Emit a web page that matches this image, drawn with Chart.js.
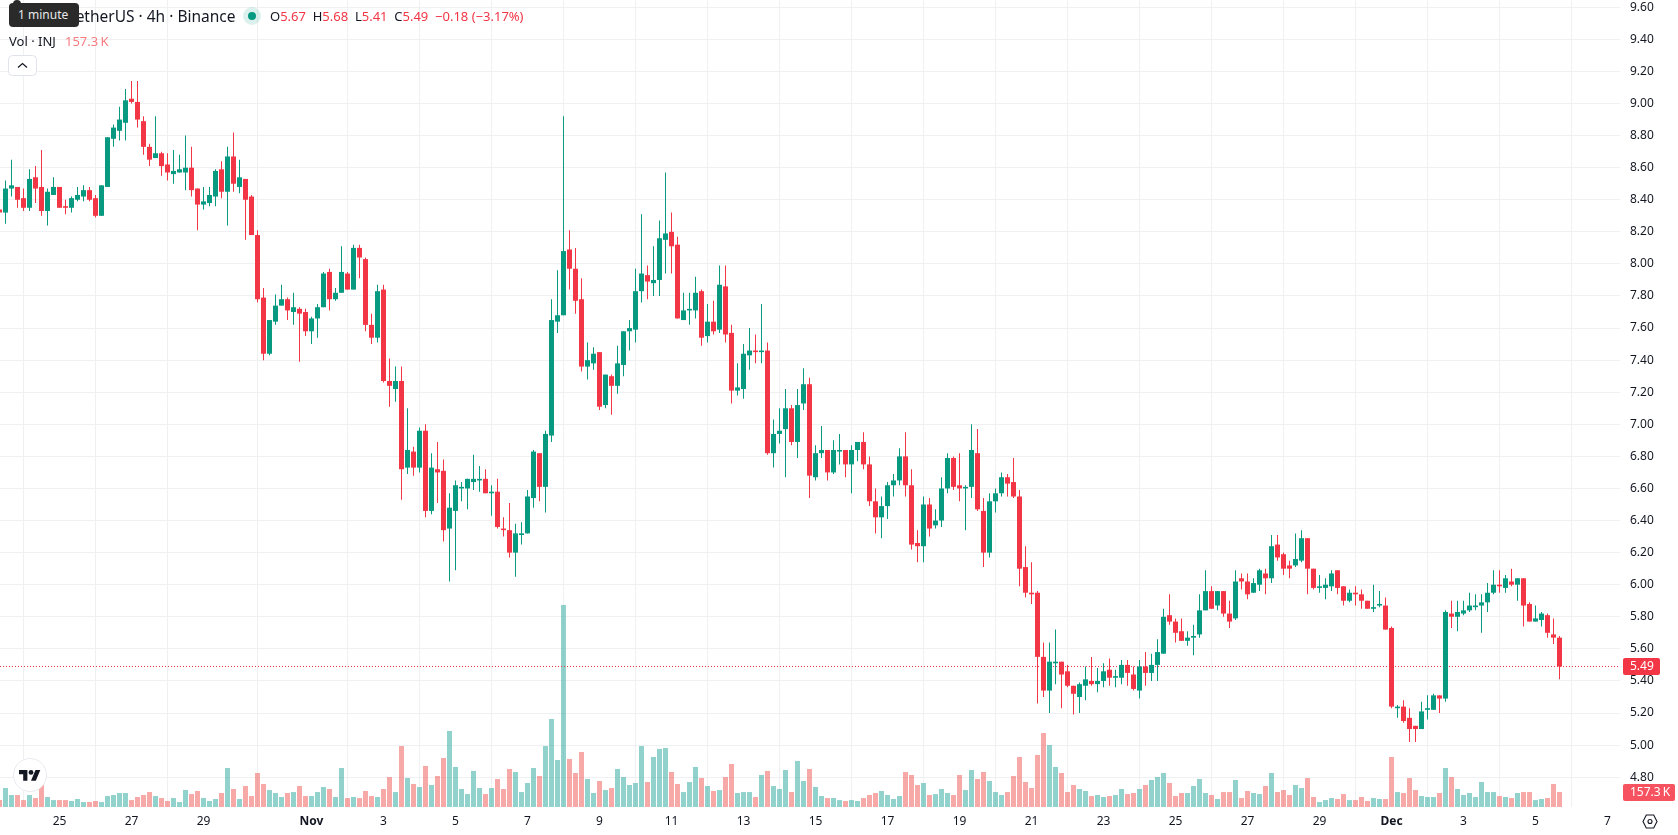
<!DOCTYPE html>
<html>
<head>
<meta charset="utf-8">
<title>INJ / TetherUS 4h</title>
<script src="https://cdn.jsdelivr.net/npm/chart.js@4"></script>
<style>
    html, body { margin: 0; padding: 0; background: #fff; overflow: hidden; }
    body { width: 1678px; height: 835px; position: relative; font-family: "Noto Sans", sans-serif; color: #131722; }
    canvas { position: absolute; left: 0; top: 0; }
    .txt { position: absolute; white-space: nowrap; }
    .red { color: #f23645; }
</style>
</head>
<body>
<canvas id="candles" width="1678" height="835"></canvas>

<div class="txt" style="left:33px;top:5px;font-size:15.5px;line-height:22px;" id="title">INJ / TetherUS · 4h · Binance</div>
<div style="position:absolute;left:9px;top:3px;width:70px;height:24px;background:#2a2a2a;border-radius:4px;"></div>
<div style="position:absolute;left:13px;top:0;width:8px;height:4px;background:#2a2a2a;border-radius:4px 4px 0 0;"></div>
<div class="txt" style="left:18px;top:7px;font-size:12px;line-height:16px;color:#e8e8e8;">1 minute</div>

<svg style="position:absolute;left:242px;top:7px" width="20" height="19">
    <circle cx="10" cy="9" r="9" fill="#089981" opacity="0.14"></circle>
    <circle cx="10" cy="9" r="4" fill="#089981"></circle>
</svg>
<div class="txt" style="left:270px;top:7px;font-size:13px;line-height:18px;">
    O<span class="red">5.67</span>&nbsp; H<span class="red">5.68</span>&nbsp; L<span class="red">5.41</span>&nbsp; C<span class="red">5.49</span>&nbsp; <span class="red">−0.18 (−3.17%)</span>
</div>
<div class="txt" style="left:9px;top:32px;font-size:13px;line-height:18px;">Vol · INJ</div>
<div class="txt" style="left:65px;top:32px;font-size:13px;line-height:18px;color:#f77c80;">157.3&#8201;K</div>
<svg style="position:absolute;left:8px;top:55px" width="29" height="21">
    <rect x="0.5" y="0.5" width="28" height="20" rx="4" fill="#fff" stroke="#e0e3eb"></rect>
    <path d="M10 12.5l4.5-4 4.5 4" fill="none" stroke="#131722" stroke-width="1.2"></path>
</svg>

<!-- logo badge, bottom left -->
<svg style="position:absolute;left:13px;top:758px" width="34" height="34" viewBox="0 0 34 34">
    <circle cx="17" cy="17" r="16.5" fill="#fff" stroke="#e8eaef"></circle>
    <g transform="translate(6,12) scale(0.6)" fill="#131722">
        <path d="M14 18H7V7H0V0h14v18zM28 18h-8L27.5 0h8L28 18z"></path>
        <circle cx="20" cy="4" r="4"></circle>
    </g>
</svg>

<!-- settings hexagon, bottom right -->
<svg style="position:absolute;left:1642px;top:814px" width="16" height="15" viewBox="0 0 16 15">
    <path d="M4.3 1h7.4L15 7.5 11.7 14H4.3L1 7.5z" fill="none" stroke="#131722" stroke-width="1.1"></path>
    <circle cx="8" cy="7.5" r="2" fill="none" stroke="#131722" stroke-width="1.1"></circle>
</svg>

<script>
// 4h candles, oldest first
const opens = [8.34,
    8.32,8.47,8.48,8.41,8.35,8.54,8.48,8.33,8.43,8.48,
    8.36,8.35,8.40,8.42,8.46,8.41,8.30,8.48,8.78,8.83,
    8.88,9.03,9.01,8.89,8.73,8.66,8.69,8.62,8.56,8.57,
    8.57,8.60,8.47,8.37,8.38,8.42,8.59,8.45,8.67,8.48,
    8.53,8.42,8.18,7.79,7.44,7.64,7.74,7.78,7.70,7.72,
    7.70,7.58,7.66,7.73,7.95,7.78,7.82,7.94,7.84,8.10,
    8.03,7.62,7.54,7.84,7.27,7.22,7.27,6.73,6.83,6.73,
    6.96,6.46,6.72,6.71,6.35,6.46,6.60,6.60,6.64,6.65,
    6.66,6.57,6.58,6.35,6.34,6.20,6.31,6.32,6.54,6.82,
    6.61,6.93,7.64,7.68,8.09,7.97,7.78,7.36,7.38,7.45,
    7.12,7.30,7.24,7.37,7.58,7.59,7.83,7.93,7.88,7.90,
    8.15,8.20,8.12,7.65,7.71,7.71,7.83,7.55,7.64,7.59,
    7.86,7.57,7.21,7.22,7.43,7.46,7.45,7.46,6.82,6.94,
    6.97,7.10,6.89,7.13,7.25,6.67,6.82,6.84,6.70,6.83,
    6.84,6.75,6.84,6.89,6.75,6.52,6.42,6.49,6.62,6.65,
    6.80,6.62,6.26,6.24,6.50,6.37,6.40,6.60,6.79,6.62,
    6.60,6.61,6.82,6.46,6.20,6.52,6.57,6.67,6.64,6.55,
    6.11,5.95,5.95,5.55,5.34,5.51,5.52,5.46,5.37,5.30,
    5.37,5.40,5.38,5.40,5.47,5.42,5.42,5.50,5.44,5.34,
    5.49,5.45,5.50,5.57,5.81,5.77,5.71,5.65,5.67,5.69,
    5.84,5.96,5.87,5.96,5.82,5.79,6.04,6.02,5.95,6.00,
    6.07,6.04,6.25,6.19,6.12,6.12,6.15,6.29,6.10,5.98,
    5.98,5.99,6.09,5.99,5.90,5.95,5.94,5.90,5.85,5.87,
    5.87,5.73,5.23,5.24,5.17,5.12,5.10,5.22,5.22,5.31,
    5.29,5.82,5.80,5.82,5.84,5.86,5.87,5.89,5.95,6.00,
    5.98,6.02,6.00,6.04,5.88,5.77,5.78,5.81,5.69,5.67];
const highs = [8.35,
    8.52,8.65,8.48,8.47,8.59,8.61,8.71,8.47,8.54,8.48,
    8.40,8.42,8.48,8.49,8.48,8.43,8.49,8.79,8.87,8.98,
    9.09,9.14,9.14,8.92,8.75,8.92,8.70,8.69,8.71,8.68,
    8.80,8.73,8.47,8.48,8.48,8.59,8.64,8.73,8.82,8.65,
    8.53,8.43,8.21,7.85,7.65,7.81,7.87,7.79,7.82,7.73,
    7.72,7.67,7.75,7.95,7.97,7.85,8.11,7.95,8.12,8.12,
    8.04,7.69,7.87,7.87,7.41,7.36,7.36,7.10,6.86,6.98,
    7.00,6.82,6.89,6.78,6.57,6.65,6.64,6.66,6.81,6.74,
    6.72,6.62,6.66,6.42,6.51,6.38,6.39,6.59,6.84,6.82,
    6.96,7.78,7.96,8.92,8.21,8.10,7.91,7.51,7.48,7.45,
    7.31,7.31,7.49,7.58,7.65,7.97,8.31,7.99,8.11,8.27,
    8.57,8.32,8.17,7.82,7.82,7.92,7.84,7.75,7.77,7.99,
    7.99,7.62,7.38,7.50,7.60,7.56,7.75,7.51,7.03,7.10,
    7.22,7.12,7.22,7.35,7.29,6.87,6.99,6.84,6.90,6.94,
    6.84,6.87,6.89,6.95,6.80,6.60,6.55,6.64,6.69,6.85,
    6.95,6.72,6.34,6.55,6.54,6.47,6.67,6.82,6.80,6.82,
    6.62,7.00,6.97,6.54,6.57,6.60,6.70,6.69,6.79,6.59,
    6.24,6.14,5.96,5.64,5.64,5.72,5.52,5.50,5.37,5.39,
    5.49,5.55,5.48,5.51,5.54,5.47,5.53,5.53,5.49,5.53,
    5.58,5.57,5.66,5.85,5.94,5.79,5.79,5.71,5.75,5.94,
    6.09,5.99,5.96,5.96,5.90,6.09,6.07,6.07,6.04,6.10,
    6.10,6.31,6.31,6.20,6.15,6.32,6.34,6.29,6.10,6.06,
    6.04,6.09,6.09,5.99,5.97,5.99,5.97,5.90,6.00,5.96,
    5.92,5.74,5.25,5.28,5.23,5.12,5.27,5.31,5.32,5.31,
    5.84,5.90,5.90,5.90,5.95,5.94,5.94,6.01,6.09,6.09,
    6.06,6.10,6.04,6.04,5.89,5.87,5.83,5.82,5.79,5.68];
const lows = [8.31,
    8.25,8.42,8.35,8.33,8.33,8.38,8.30,8.24,8.43,8.35,
    8.31,8.32,8.39,8.39,8.39,8.29,8.30,8.48,8.73,8.77,
    8.77,9.00,8.85,8.68,8.61,8.66,8.55,8.52,8.50,8.57,
    8.46,8.42,8.21,8.34,8.36,8.36,8.41,8.24,8.45,8.44,
    8.15,8.18,7.76,7.40,7.43,7.62,7.74,7.65,7.62,7.39,
    7.55,7.50,7.54,7.73,7.71,7.77,7.82,7.84,7.84,7.91,
    7.58,7.50,7.51,7.26,7.11,7.14,6.53,6.69,6.68,6.70,
    6.42,6.44,6.51,6.27,6.02,6.09,6.52,6.47,6.59,6.58,
    6.57,6.43,6.35,6.30,6.17,6.05,6.25,6.32,6.48,6.52,
    6.45,6.89,7.57,7.68,7.84,7.69,7.33,7.28,7.34,7.09,
    7.10,7.06,7.19,7.30,7.46,7.51,7.76,7.78,7.80,7.80,
    7.94,7.94,7.66,7.65,7.62,7.66,7.49,7.51,7.56,7.57,
    7.51,7.13,7.18,7.16,7.34,7.38,7.38,6.81,6.73,6.88,
    6.67,6.87,6.79,7.09,6.54,6.65,6.79,6.65,6.69,6.75,
    6.67,6.57,6.77,6.72,6.49,6.32,6.29,6.41,6.55,6.62,
    6.55,6.22,6.14,6.14,6.30,6.35,6.36,6.57,6.59,6.52,
    6.34,6.54,6.46,6.11,6.17,6.45,6.55,6.55,6.54,5.99,
    5.92,5.88,5.26,5.30,5.20,5.38,5.23,5.36,5.19,5.20,
    5.28,5.37,5.33,5.36,5.37,5.36,5.38,5.37,5.34,5.29,
    5.37,5.40,5.40,5.57,5.75,5.64,5.65,5.62,5.56,5.67,
    5.84,5.85,5.84,5.80,5.73,5.78,5.97,5.91,5.95,5.96,
    5.94,6.01,6.15,6.06,6.04,6.11,6.14,5.94,5.97,5.95,
    5.91,5.96,5.94,5.87,5.89,5.87,5.85,5.85,5.83,5.86,
    5.72,5.23,5.17,5.14,5.02,5.02,5.10,5.16,5.22,5.20,
    5.27,5.73,5.71,5.81,5.83,5.84,5.70,5.83,5.94,5.95,
    5.95,5.99,5.90,5.74,5.77,5.77,5.74,5.67,5.63,5.41];
const closes = [8.32,
    8.47,8.49,8.40,8.35,8.53,8.47,8.33,8.45,8.48,8.35,
    8.35,8.41,8.43,8.46,8.40,8.30,8.49,8.79,8.85,8.90,
    9.02,9.01,8.90,8.73,8.65,8.69,8.61,8.57,8.58,8.59,
    8.60,8.46,8.37,8.39,8.43,8.58,8.45,8.67,8.50,8.54,
    8.40,8.18,7.78,7.44,7.65,7.74,7.78,7.71,7.73,7.69,
    7.58,7.66,7.73,7.94,7.78,7.82,7.95,7.84,8.10,8.04,
    7.62,7.54,7.83,7.27,7.24,7.27,6.72,6.84,6.73,6.96,
    6.46,6.73,6.70,6.34,6.48,6.62,6.61,6.66,6.66,6.66,
    6.57,6.58,6.36,6.34,6.20,6.32,6.32,6.55,6.83,6.61,
    6.94,7.65,7.68,8.08,7.97,7.77,7.36,7.40,7.44,7.11,
    7.31,7.24,7.38,7.58,7.60,7.83,7.94,7.89,7.90,8.16,
    8.19,8.11,7.66,7.71,7.72,7.82,7.54,7.64,7.58,7.87,
    7.56,7.21,7.23,7.44,7.46,7.45,7.46,6.82,6.94,6.96,
    7.10,6.89,7.12,7.25,6.68,6.82,6.84,6.70,6.84,6.84,
    6.75,6.84,6.89,6.75,6.52,6.42,6.49,6.62,6.65,6.80,
    6.62,6.25,6.24,6.50,6.35,6.40,6.60,6.79,6.61,6.60,
    6.61,6.84,6.47,6.20,6.52,6.57,6.67,6.63,6.55,6.10,
    5.95,5.94,5.55,5.34,5.52,5.52,5.44,5.37,5.32,5.38,
    5.41,5.38,5.40,5.46,5.42,5.43,5.50,5.45,5.35,5.49,
    5.45,5.50,5.58,5.80,5.77,5.70,5.65,5.67,5.68,5.84,
    5.96,5.85,5.96,5.82,5.77,6.02,6.02,5.94,6.01,6.09,
    6.04,6.24,6.17,6.10,6.10,6.16,6.29,6.10,5.98,5.99,
    6.00,6.07,5.98,5.90,5.95,5.94,5.90,5.85,5.86,5.88,
    5.72,5.24,5.24,5.15,5.10,5.10,5.21,5.23,5.31,5.29,
    5.83,5.80,5.83,5.84,5.87,5.87,5.89,5.95,6.00,5.99,
    6.04,6.00,6.04,5.87,5.77,5.79,5.82,5.70,5.67,5.49];
// volume per candle, thousands of INJ
const volumes = [73,
    199,126,126,73,126,94,231,105,73,73,
    73,63,84,52,52,63,52,115,126,147,
    147,73,105,126,157,115,94,63,94,52,
    178,136,168,94,63,84,147,409,189,84,
    220,115,357,241,178,147,105,147,157,220,
    115,115,157,210,189,105,409,94,105,94,
    168,115,105,189,315,157,640,304,241,210,
    430,231,325,514,797,420,189,136,378,199,
    136,199,294,189,399,367,157,252,409,325,
    640,923,493,2119,504,357,577,294,147,273,
    178,199,399,315,231,252,640,262,525,609,
    619,367,241,157,262,420,304,220,168,178,
    315,451,147,157,157,105,336,378,220,189,
    388,157,483,273,399,210,115,94,94,73,
    63,73,63,94,126,147,168,126,84,115,
    367,336,231,252,126,136,189,147,126,336,
    178,388,294,367,273,157,126,157,325,525,
    262,199,546,776,650,420,357,157,231,189,
    168,115,126,105,115,126,189,136,147,189,
    231,283,315,357,252,115,147,147,220,294,
    147,126,84,157,157,283,94,168,147,136,
    220,357,157,178,126,231,199,304,105,52,
    73,94,84,136,73,73,105,63,94,84,
    84,525,157,147,304,178,115,105,105,147,
    409,315,189,126,147,105,262,157,157,115,
    105,94,147,157,157,73,84,94,241,157.3];

// axis ticks: candle position of each date label, and the price levels
const dateTickAt = [10,22,34,52,64,76,88,100,112,124,136,148,160,172,184,196,208,220,232,244,256,268];
const dateTickLabels = ['25','27','29','Nov','3','5','7','9','11','13','15','17','19','21','23','25','27','29','Dec','3','5','7'];
const priceTicks = [4.8,5.0,5.2,5.4,5.6,5.8,6.0,6.2,6.4,6.6,6.8,7.0,7.2,7.4,7.6,7.8,8.0,8.2,8.4,8.6,8.8,9.0,9.2,9.4,9.6];
const lastPrice = 5.49;
const lastVolume = '157.3\u2009K';

const UP = '#089981', DOWN = '#F23645';
const VOL_UP = 'rgba(38,166,154,0.5)', VOL_DOWN = 'rgba(239,83,80,0.5)';
const GRID = '#eff0f2';
const FONT = '"Noto Sans", sans-serif';
const X_MIN = 1 / 12, X_MAX = 270.083;

const candleColors = opens.map((o, i) => closes[i] >= o ? UP : DOWN);
const volumeColors = opens.map((o, i) => closes[i] >= o ? VOL_UP : VOL_DOWN);

const barDefaults = { grouped: false, borderWidth: 0, inflateAmount: 0, borderSkipped: false };

// last price tag on the axis plus the volume tag under it
const axisTags = {
    id: 'axisTags',
    afterDraw(chart) {
        const { ctx, scales } = chart;
        const tag = (y, w, text, bg) => {
            ctx.fillStyle = bg;
            ctx.beginPath();
            ctx.roundRect(1623, y - 8.5, w, 17, 2);
            ctx.fill();
            ctx.fillStyle = '#fff';
            ctx.font = '12px ' + FONT;
            ctx.textAlign = 'left';
            ctx.textBaseline = 'middle';
            ctx.fillText(text, 1630, y);
        };
        tag(scales.y.getPixelForValue(lastPrice), 37, String(lastPrice), '#F23645');
        tag(scales.yVol.getPixelForValue(volumes[volumes.length - 1]) + 0.5, 52, lastVolume, '#F7525F');
    }
};

new Chart(document.getElementById('candles'), {
    data: {
        datasets: [
            {
                type: 'line',
                data: [{ x: X_MIN, y: lastPrice }, { x: X_MAX, y: lastPrice }],
                borderColor: '#F23645',
                borderWidth: 1,
                borderDash: [1, 2],
                pointRadius: 0,
                order: 3
            },
            {
                type: 'bar',
                yAxisID: 'yVol',
                data: volumes.map((v, i) => ({ x: i, y: v })),
                backgroundColor: volumeColors,
                barThickness: 5,
                order: 4,
                ...barDefaults
            },
            {
                type: 'bar',
                data: highs.map((h, i) => ({ x: i, y: [lows[i], h] })),
                backgroundColor: candleColors,
                barThickness: 1,
                order: 2,
                ...barDefaults
            },
            {
                type: 'bar',
                data: opens.map((o, i) => ({ x: i, y: [o, closes[i]] })),
                backgroundColor: candleColors,
                barThickness: 5,
                minBarLength: 1,
                order: 1,
                ...barDefaults
            }
        ]
    },
    options: {
        responsive: false,
        animation: false,
        events: [],
        layout: { padding: 0 },
        plugins: { legend: { display: false }, tooltip: { enabled: false } },
        scales: {
            x: {
                type: 'linear',
                offset: false,
                min: X_MIN,
                max: X_MAX,
                grid: { color: GRID, drawTicks: false },
                border: { display: false },
                afterBuildTicks(scale) { scale.ticks = dateTickAt.map(v => ({ value: v })); },
                afterFit(scale) { scale.height = 28; scale.paddingLeft = 0; scale.paddingRight = 0; },
                ticks: {
                    autoSkip: false,
                    maxRotation: 0,
                    padding: 7,
                    color: '#131722',
                    callback: v => dateTickLabels[dateTickAt.indexOf(v)],
                    font: ctx => ({
                        family: FONT,
                        size: 12,
                        weight: ctx.tick && /[A-Z]/.test(ctx.tick.label) ? 'bold' : 'normal'
                    })
                }
            },
            y: {
                position: 'right',
                min: 4.614,
                max: 9.6455,
                grid: { color: GRID, drawTicks: false },
                border: { display: false },
                afterBuildTicks(scale) { scale.ticks = priceTicks.map(v => ({ value: v })); },
                // the top label may hang over the edge, keep the plot flush with the page
                afterFit(scale) { scale.width = 58; scale.paddingTop = 0; scale.paddingBottom = 0; },
                ticks: {
                    padding: 10,
                    color: '#131722',
                    font: { family: FONT, size: 12 },
                    callback: v => v.toFixed(2)
                }
            },
            yVol: { display: false, min: 0, max: 8465 }
        }
    },
    plugins: [axisTags]
});
</script>
</body>
</html>
